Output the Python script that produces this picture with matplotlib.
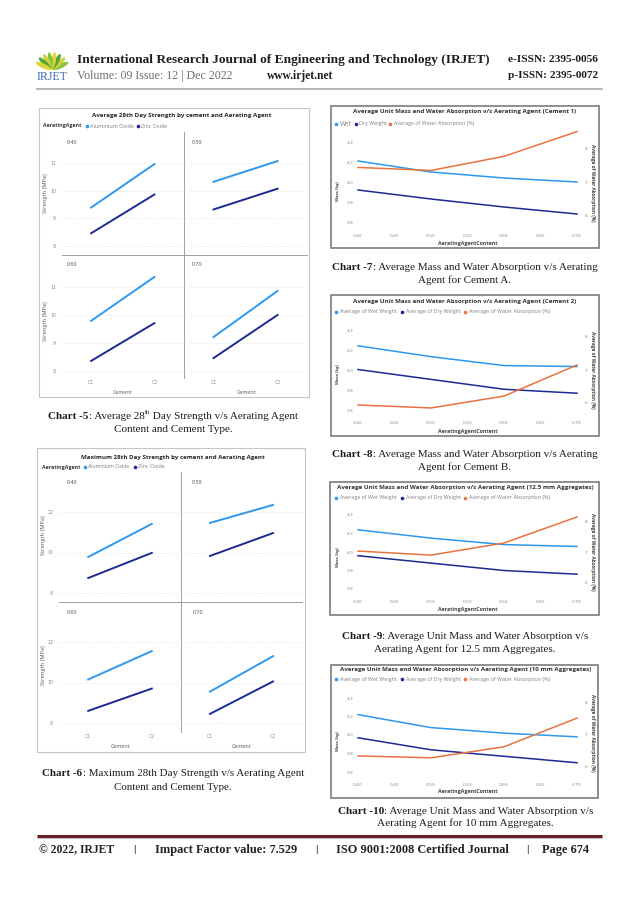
import numpy as np
import matplotlib
matplotlib.use("Agg")
from matplotlib import pyplot as plt
from matplotlib.patches import Ellipse, Rectangle

W, H = 638, 902
SANS = ["Open Sans", "DejaVu Sans"]
SERIF = ["Liberation Serif", "DejaVu Serif"]
BLUE = "#2e98ee"
NAVY = "#1c2993"
ORANGE = "#e7733f"
TICK = "#8c8c8c"
INK = "#1e1e1e"

# ---- chart 5 / 6 : strength by cement (C1, C2), one panel per agent content ----
CEMENTS = ["C1", "C2"]
PANELS = ["0.40", "0.50", "0.60", "0.70"]
AVG_ALU = [[9.39, 10.96], [10.32, 11.07], [9.79, 11.36], [9.21, 10.86]]
AVG_ZINC = [[8.46, 9.86], [9.32, 10.07], [8.36, 9.71], [8.46, 10.00]]
MAX_ALU = [[9.78, 11.41], [11.46, 12.35], [10.15, 11.55], [9.55, 11.30]]
MAX_ZINC = [[8.74, 9.98], [9.83, 10.96], [8.60, 9.70], [8.45, 10.05]]
AVG_TICKS = [8, 9, 10, 11]
MAX_TICKS = [8, 10, 12]

# ---- charts 7-10 : unit mass (kg) and water absorption (%) vs agent content ----
CONTENT = [0.40, 0.50, 0.60, 0.70]
CONTENT_TICKS = [0.40, 0.45, 0.50, 0.55, 0.60, 0.65, 0.70]
MASS_TICKS = [3.6, 3.8, 4.0, 4.2, 4.4]
WA_TICKS = [6, 7, 8]
CEM1_WET = [4.22, 4.11, 4.05, 4.01]
CEM1_DRY = [3.93, 3.84, 3.76, 3.69]
CEM1_WA = [7.45, 7.36, 7.78, 8.52]
CEM2_WET = [4.25, 4.14, 4.05, 4.04]
CEM2_DRY = [4.01, 3.91, 3.81, 3.77]
CEM2_WA = [5.94, 5.85, 6.21, 7.15]
AGG125_WET = [4.24, 4.15, 4.08, 4.06]
AGG125_DRY = [3.96, 3.88, 3.80, 3.76]
AGG125_WA = [7.03, 6.90, 7.29, 8.13]
AGG10_WET = [4.22, 4.08, 4.02, 3.98]
AGG10_DRY = [3.97, 3.84, 3.77, 3.70]
AGG10_WA = [6.32, 6.26, 6.61, 7.52]

fig = plt.figure(figsize=(W / 100, H / 100), dpi=100)
bg = fig.add_axes([0, 0, 1, 1])
bg.set_xlim(0, W)
bg.set_ylim(H, 0)
bg.axis("off")
RENDERER = fig.canvas.get_renderer()


def px_axes(x0, y0, x1, y1):
    ax = fig.add_axes([x0 / W, 1 - y1 / H, (x1 - x0) / W, (y1 - y0) / H])
    ax.set_facecolor("none")
    for s in ax.spines.values():
        s.set_visible(False)
    return ax


def span_limits(v_hi, p_hi, v_lo, p_lo, top, bottom):
    # value range of an axis whose ticks v_hi / v_lo sit at pixel rows p_hi / p_lo
    scale = (p_lo - p_hi) / (v_hi - v_lo)
    return v_lo - (bottom - p_lo) / scale, v_hi + (p_hi - top) / scale


def fit_text(s, x0, x1, y, family=SANS, **kw):
    t = bg.text(x0, y, s, ha="left", va="center", fontsize=10, family=family, **kw)
    width = t.get_window_extent(RENDERER).width
    t.set_fontsize(10 * (x1 - x0) / width)
    return t


def fit_vtext(s, x, y0, y1, rotation, family=SANS, **kw):
    t = bg.text(x, (y0 + y1) / 2, s, ha="center", va="center", rotation=rotation,
                fontsize=10, family=family, **kw)
    height = t.get_window_extent(RENDERER).height
    t.set_fontsize(10 * (y1 - y0) / height)
    return t


def caption_line(runs, xc, y, target=None, size=10.0):
    texts = []
    for s, bold, sup in runs:
        t = bg.text(0, y, s, family=SERIF, fontweight="bold" if bold else "normal",
                    va="baseline", ha="left", fontsize=size * (0.6 if sup else 1.0), color=INK)
        texts.append((t, sup))
    widths = [t.get_window_extent(RENDERER).width for t, _ in texts]
    if target:
        k = target / sum(widths)
        size *= k
        widths = [w * k for w in widths]
        for t, sup in texts:
            t.set_fontsize(size * (0.6 if sup else 1.0))
    x = xc - sum(widths) / 2
    for (t, sup), w in zip(texts, widths):
        t.set_x(x)
        if sup:
            t.set_y(y - 0.42 * size * 1.389)
        x += w
    return size


def caption(label, rest, second, xc, y1, y2, target):
    size = caption_line([(label, True, False)] + rest, xc, y1, target=target)
    caption_line([(second, False, False)], xc, y2, size=size)


def legend_row(y, items):
    for dot_x, color, label, x0, x1 in items:
        if color is None:
            fit_text(label, x0, x1, y, fontweight="bold", color="#3a3a3a")
        else:
            bg.plot([dot_x], [y], "o", ms=2.6, color=color, mec="none")
            fit_text(label, x0, x1, y, color="#808080")


def box(x0, y0, x1, y1, color, lw):
    bg.add_patch(Rectangle((x0, y0), x1 - x0, y1 - y0, fill=False, ec=color, lw=lw))


# ---------------- header ----------------
for i, a in enumerate(np.linspace(25, 155, 8)):
    r = np.deg2rad(a)
    bx, by = 52, 70
    bg.add_patch(Ellipse((bx + 9.5 * np.cos(r), by - 9.5 * np.sin(r)), 17, 4.6, angle=-a,
                         color=["#86c341", "#cdd637", "#58a635", "#e3d43d"][i % 4], lw=0))
fit_text("IRJET", 37, 68, 77.5, family=SERIF, color="#3d6cb3")
fit_text("International Research Journal of Engineering and Technology (IRJET)", 77, 490, 60,
         family=SERIF, fontweight="bold", color=INK)
fit_text("Volume: 09 Issue: 12 | Dec 2022", 77, 232, 76, family=SERIF, color="#6d6d6d")
fit_text("www.irjet.net", 267, 334, 76, family=SERIF, fontweight="bold", color=INK)
fit_text("e-ISSN: 2395-0056", 508, 598, 60, family=SERIF, fontweight="bold", color=INK)
fit_text("p-ISSN: 2395-0072", 508, 598, 76, family=SERIF, fontweight="bold", color=INK)
bg.plot([37, 602], [89, 89], color="#a9a9a9", lw=1.2)


# ---------------- charts 5 and 6 : small multiples ----------------
def strength_chart(cols, rows, ticks, alu, zinc, xpad):
    for r, (top, bottom, v_hi, p_hi, v_lo, p_lo) in enumerate(rows):
        ylim = span_limits(v_hi, p_hi, v_lo, p_lo, top, bottom)
        for c, (x0, x1) in enumerate(cols):
            k = 2 * r + c
            ax = px_axes(x0, top, x1, bottom)
            ax.plot([0, 1], alu[k], color=BLUE, lw=1.4)
            ax.plot([0, 1], zinc[k], color=NAVY, lw=1.4)
            ax.set_xlim(-0.46, 1.46)
            ax.set_ylim(*ylim)
            ax.set_yticks(ticks)
            ax.set_yticklabels([str(t) for t in ticks] if c == 0 else [])
            ax.set_xticks([0, 1])
            ax.set_xticklabels(CEMENTS if r == 1 else [])
            ax.tick_params(axis="y", length=0, labelsize=3.4, labelcolor=TICK, pad=4.2)
            ax.tick_params(axis="x", length=0, labelsize=3.4, labelcolor=TICK, pad=xpad)
            ax.set_axisbelow(True)
            ax.grid(axis="y", color="#dedede", lw=0.5, ls=(0, (1, 1.5)))
            ax.grid(axis="x", visible=False)


# chart 5
box(39, 108, 309, 397, "#c6c6c6", 0.8)
fit_text("Average 28th Day Strength by cement and Aerating Agent", 92, 271, 115,
         fontweight="bold", color="#262626")
legend_row(126, [(None, None, "AeratingAgent", 43, 81),
                 (87, BLUE, "Aluminium Oxide", 90, 135),
                 (138, NAVY, "Zinc Oxide", 141, 167)])
strength_chart([(62, 183.5), (184, 307)],
               [(148, 253, 11, 163, 8, 246), (272, 376, 11, 287, 8, 371)],
               AVG_TICKS, AVG_ALU, AVG_ZINC, 3.2)
bg.plot([183.5, 183.5], [132, 378], color="#a0a0a0", lw=0.7)
bg.plot([62, 307], [255, 255], color="#a0a0a0", lw=0.7)
for name, (x, y) in zip(PANELS, [(67, 143), (192, 143), (67, 265), (192, 265)]):
    bg.text(x, y, name, fontsize=3.9, family=SANS, color="#4a4a4a", va="center")
for yc in (193, 321):
    fit_vtext("Strength (MPa)", 45, yc - 20, yc + 20, 90, color="#555555")
for xc in (122, 246):
    bg.text(xc, 392, "Cement", fontsize=3.9, family=SANS, color="#555555", ha="center", va="center")
caption("Chart -5", [(": Average 28", False, False), ("th", False, True),
                     (" Day Strength v/s Aerating Agent", False, False)],
        "Content and Cement Type.", 173, 419, 431.5, 250)

# chart 6
box(37, 448, 305, 752, "#c6c6c6", 0.8)
fit_text("Maximum 28th Day Strength by cement and Aerating Agent", 81, 262, 457,
         fontweight="bold", color="#262626")
legend_row(467, [(None, None, "AeratingAgent", 42, 80),
                 (85, BLUE, "Aluminium Oxide", 88, 130),
                 (135, NAVY, "Zinc Oxide", 138, 165)])
strength_chart([(59, 181), (181, 302)],
               [(490, 598, 12, 512, 8, 593), (620, 728, 12, 642, 8, 723)],
               MAX_TICKS, MAX_ALU, MAX_ZINC, 4.5)
bg.plot([181, 181], [472, 732], color="#a0a0a0", lw=0.7)
bg.plot([59, 302], [602, 602], color="#a0a0a0", lw=0.7)
for name, (x, y) in zip(PANELS, [(67, 483), (192, 483), (67, 612), (193, 612)]):
    bg.text(x, y, name, fontsize=3.9, family=SANS, color="#4a4a4a", va="center")
for yc in (535, 665):
    fit_vtext("Strength (MPa)", 44, yc - 20, yc + 20, 90, color="#555555")
for xc in (120, 241):
    bg.text(xc, 746, "Cement", fontsize=3.9, family=SANS, color="#555555", ha="center", va="center")
caption("Chart -6", [(": Maximum 28th Day Strength v/s Aerating Agent", False, False)],
        "Content and Cement Type.", 173, 776, 790, 261)


# ---------------- charts 7-10 : mass and water absorption ----------------
def mass_chart(top, bottom, left_ref, right_ref, wet, dry, wa):
    ax = px_axes(356, top, 581, bottom)
    ax.plot(CONTENT, wet, color=BLUE, lw=1.1)
    ax.plot(CONTENT, dry, color=NAVY, lw=1.1)
    ax.set_xlim(0.40 - 2 / 730, 0.70 + 4 / 730)
    ax.set_ylim(*span_limits(*left_ref, top, bottom))
    ax.set_xticks(CONTENT_TICKS)
    ax.set_xticklabels([f"{v:.2f}" for v in CONTENT_TICKS])
    ax.set_yticks(MASS_TICKS)
    ax.set_yticklabels([f"{v:.1f}" for v in MASS_TICKS])
    ax.tick_params(length=0, labelsize=3.2, labelcolor=TICK)
    ax.tick_params(axis="x", pad=4.6)
    ax.tick_params(axis="y", pad=1.5)
    ax2 = ax.twinx()
    ax2.set_facecolor("none")
    for s in ax2.spines.values():
        s.set_visible(False)
    ax2.plot(CONTENT, wa, color=ORANGE, lw=1.1)
    ax2.set_ylim(*span_limits(*right_ref, top, bottom))
    ax2.set_yticks(WA_TICKS)
    ax2.set_yticklabels([str(v) for v in WA_TICKS])
    ax2.tick_params(length=0, labelsize=3.2, labelcolor=TICK, pad=2.5)


MASS_LEGEND_LONG = [(336, BLUE, "Average of Wet Weight", 340, 397),
                    (402, NAVY, "Average of Dry Weight", 406, 461),
                    (465, ORANGE, "Average of Water Absorption (%)", 469, 550)]

specs = [
    dict(box=(331, 106, 599, 248), title="(Cement 1)", tspan=(353, 577), ty=112, ly=124,
         legend=[(336, BLUE, "Wet", 340, 352), (356, NAVY, "Dry Weight", 359, 387),
                 (390, ORANGE, "Average of Water Absorption (%)", 394, 473)],
         axes=(130, 228), left=(4.4, 143, 3.6, 223), right=(8, 149, 6, 216),
         mass_y=191, wa_y=183, xl_y=244, data=(CEM1_WET, CEM1_DRY, CEM1_WA),
         cap=("Chart -7", ": Average Mass and Water Absorption v/s Aerating", "Agent for Cement A.",
              270, 283, 266)),
    dict(box=(331, 295, 599, 436), title="(Cement 2)", tspan=(353, 577), ty=301, ly=312,
         legend=MASS_LEGEND_LONG,
         axes=(320, 415), left=(4.4, 331, 3.6, 410), right=(8, 337, 6, 403),
         mass_y=374, wa_y=370, xl_y=432, data=(CEM2_WET, CEM2_DRY, CEM2_WA),
         cap=("Chart -8", ": Average Mass and Water Absorption v/s Aerating", "Agent for Cement B.",
              457, 470, 266)),
    dict(box=(330, 482, 599, 615), title="(12.5 mm Aggregates)", tspan=(337, 594), ty=487, ly=498,
         legend=MASS_LEGEND_LONG,
         axes=(506, 594), left=(4.4, 515, 3.6, 589), right=(8, 521, 6, 583),
         mass_y=557, wa_y=552, xl_y=610, data=(AGG125_WET, AGG125_DRY, AGG125_WA),
         cap=("Chart -9", ": Average Unit Mass and Water Absorption v/s",
              "Aerating Agent for 12.5 mm Aggregates.", 639, 652, 247)),
    dict(box=(331, 665, 598, 798), title="(10 mm Aggregates)", tspan=(340, 592), ty=669, ly=679,
         legend=MASS_LEGEND_LONG,
         axes=(688, 777), left=(4.4, 698, 3.6, 772), right=(8, 703, 6, 766),
         mass_y=741, wa_y=733, xl_y=792, data=(AGG10_WET, AGG10_DRY, AGG10_WA),
         cap=("Chart -10", ": Average Unit Mass and Water Absorption v/s",
              "Aerating Agent for 10 mm Aggregates.", 814, 826, 255)),
]

for sp in specs:
    box(*sp["box"], "#707070", 1.1)
    fit_text("Average Unit Mass and Water Absorption v/s Aerating Agent " + sp["title"],
             *sp["tspan"], sp["ty"], fontweight="bold", color="#333333")
    legend_row(sp["ly"], sp["legend"])
    mass_chart(*sp["axes"], sp["left"], sp["right"], *sp["data"])
    fit_vtext("Mass (kg)", 338, sp["mass_y"] - 10, sp["mass_y"] + 10, 90,
              fontweight="bold", color="#444444")
    fit_vtext("Average of Water Absorption (%)", 593, sp["wa_y"] - 39, sp["wa_y"] + 39, 270,
              fontweight="bold", color="#444444")
    fit_text("AeratingAgentContent", 438, 498, sp["xl_y"], fontweight="bold", color="#444444")
    label, rest, second, y1, y2, target = sp["cap"]
    caption(label, [(rest, False, False)], second, 465, y1, y2, target)


# ---------------- footer ----------------
bg.plot([37, 602], [836, 836], color="#6a2027", lw=2.2, solid_capstyle="butt")
bg.plot([37, 602], [838.3, 838.3], color="#b5b5b5", lw=0.6)
for s, x0, x1 in [("\u00a9 2022, IRJET", 39, 114), ("Impact Factor value: 7.529", 155, 297),
                  ("ISO 9001:2008 Certified Journal", 336, 507), ("Page 674", 542, 589)]:
    fit_text(s, x0, x1, 850, family=SERIF, fontweight="bold", color="#222222")
for x in (134, 316, 527):
    bg.text(x, 850, "|", family=SERIF, fontsize=8, fontweight="bold", color="#222222",
            ha="center", va="center")

fig.savefig("out.png", dpi=100, facecolor="white")
